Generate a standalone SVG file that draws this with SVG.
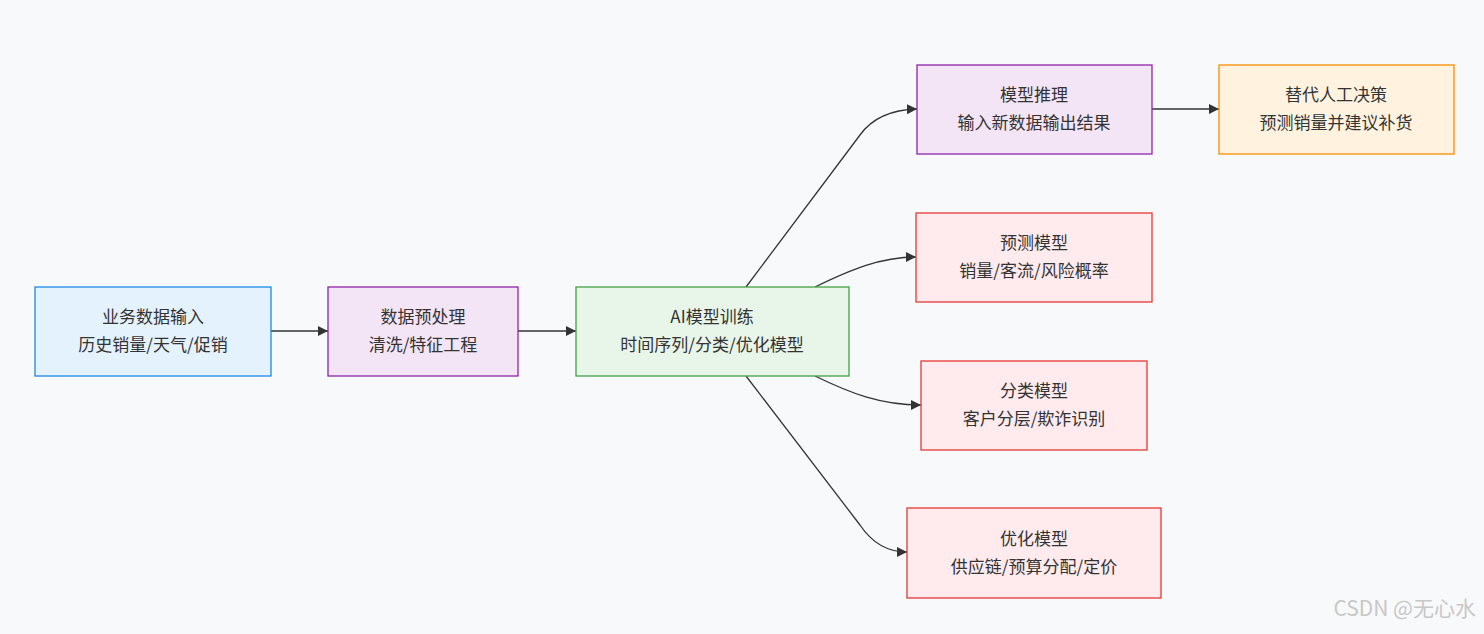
<svg xmlns="http://www.w3.org/2000/svg" width="1484" height="634" viewBox="0 0 1484 634">
<defs>
<marker id="arr" viewBox="0 0 10 10" refX="10" refY="5" markerWidth="10" markerHeight="10" markerUnits="userSpaceOnUse" orient="auto"><path d="M0,0 L10,5 L0,10 z" fill="#333"/></marker>
</defs>
<style>
.t{font-family:"Noto Sans CJK SC","Noto Sans",sans-serif;font-size:17px;fill:#333;text-anchor:middle}
.e{fill:none;stroke:#333;stroke-width:1.3;marker-end:url(#arr)}
.blue{fill:#e3f2fd;stroke:#1e88e5}
.pur{fill:#f3e5f5;stroke:#8e24aa}
.grn{fill:#e8f5e9;stroke:#43a047}
.org{fill:#fff3e0;stroke:#fb8c00}
.red{fill:#ffebee;stroke:#e53935}
rect{stroke-width:1.3}
</style>
<rect width="1484" height="634" fill="#f8f9fa"/>
<g id="connectors">
<path class="e" d="M271,331 L328,331"/>
<path class="e" d="M518,331 L576,331"/>
<path class="e" d="M746,287 L860,135 Q878,110 917,109"/>
<path class="e" d="M815,287 C850,270 880,257 916,257"/>
<path class="e" d="M815,376 C850,393 880,405 921,405"/>
<path class="e" d="M746,376 L860,525 Q878,552 907,552"/>
<path class="e" d="M1152,109 L1219,109"/>
</g>
<g id="n1"><rect class="blue" x="35" y="287" width="236" height="89"/><text class="t" x="153" y="323">业务数据输入</text><text class="t" x="153" y="351">历史销量/天气/促销</text></g>
<g id="n2"><rect class="pur" x="328" y="287" width="190" height="89"/><text class="t" x="423" y="323">数据预处理</text><text class="t" x="423" y="351">清洗/特征工程</text></g>
<g id="n3"><rect class="grn" x="576" y="287" width="273" height="89"/><text class="t" x="712" y="323">AI模型训练</text><text class="t" x="712" y="351">时间序列/分类/优化模型</text></g>
<g id="n4"><rect class="pur" x="917" y="65" width="235" height="89"/><text class="t" x="1034" y="101">模型推理</text><text class="t" x="1034" y="129">输入新数据输出结果</text></g>
<g id="n5"><rect class="org" x="1219" y="65" width="235" height="89"/><text class="t" x="1336" y="101">替代人工决策</text><text class="t" x="1336" y="129">预测销量并建议补货</text></g>
<g id="n6"><rect class="red" x="916" y="213" width="236" height="89"/><text class="t" x="1034" y="249">预测模型</text><text class="t" x="1034" y="277">销量/客流/风险概率</text></g>
<g id="n7"><rect class="red" x="921" y="361" width="226" height="89"/><text class="t" x="1034" y="397">分类模型</text><text class="t" x="1034" y="425">客户分层/欺诈识别</text></g>
<g id="n8"><rect class="red" x="907" y="508" width="254" height="90"/><text class="t" x="1034" y="545">优化模型</text><text class="t" x="1034" y="573">供应链/预算分配/定价</text></g>
<text x="1476" y="616" style="font-family:'Noto Sans CJK SC','Noto Sans',sans-serif;font-size:21px;fill:#c8c8c8;text-anchor:end">CSDN @无心水</text>
</svg>
